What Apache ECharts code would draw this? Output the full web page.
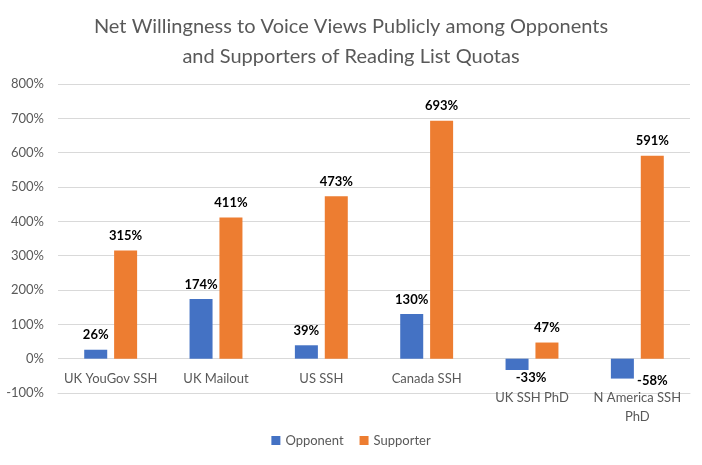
<!DOCTYPE html>
<html>
<head>
<meta charset="utf-8">
<script src="https://cdn.jsdelivr.net/npm/echarts@6/dist/echarts.min.js"></script>
<style>
  html, body { margin: 0; padding: 0; background: #fff; }
  #chart { width: 702px; height: 465px; }
</style>
</head>
<body>
<div id="chart"></div>
<script>
const categories = ['UK YouGov SSH', 'UK Mailout', 'US SSH', 'Canada SSH', 'UK SSH PhD', 'N America SSH PhD']
const opponent = [26, 174, 39, 130, -33, -58]
const supporter = [315, 411, 473, 693, 47, 591]
const seriesNames = ['Opponent', 'Supporter']
const titleText = 'Net Willingness to Voice Views Publicly among Opponents\nand Supporters of Reading List Quotas'

const font = 'Lato, "Open Sans", sans-serif'
// excel nudges the negative labels so they clear the axis text
const negShift = { 4: [14, 0], 5: [30, -5] }

// negative bars get their label underneath
const toData = (arr) => arr.map((v, i) => (v < 0
  ? { value: v, label: { position: 'bottom', distance: 1, offset: negShift[i] || [0, 0] } }
  : v))

// excel pushes the axis label down when a negative label sits there, and wraps long names
const labelFmt = (val, idx) => {
  let txt = val
  if (txt.length > 14) {
    const cut = txt.lastIndexOf(' ')
    txt = txt.slice(0, cut) + '\n' + txt.slice(cut + 1)
  }
  if (opponent[idx] < 0 || supporter[idx] < 0) txt = '\n' + txt
  return txt
}

const barLabel = {
  show: true,
  position: 'top',
  distance: 8,
  formatter: '{c}%',
  fontFamily: font,
  fontSize: 13,
  fontWeight: 'bold',
  color: '#000',
}

const chart = echarts.init(document.getElementById('chart'))
chart.setOption({
  animation: false,
  title: {
    text: titleText,
    left: 'center',
    top: 7,
    textStyle: { fontFamily: font, fontSize: 20, fontWeight: 'normal', color: '#595959', lineHeight: 30 },
  },
  legend: {
    data: seriesNames,
    bottom: 13,
    left: 'center',
    icon: 'rect',
    itemWidth: 9,
    itemHeight: 9,
    itemGap: 16,
    textStyle: { fontFamily: font, fontSize: 13, color: '#595959' },
  },
  grid: { left: 58, right: 12, top: 84, bottom: 72 },
  xAxis: {
    type: 'category',
    data: categories,
    axisLine: { onZero: false, lineStyle: { color: '#d9d9d9' } },
    axisTick: { show: false },
    axisLabel: {
      formatter: labelFmt,
      fontFamily: font,
      fontSize: 13,
      color: '#595959',
      margin: -24,
      lineHeight: 19,
      interval: 0,
    },
  },
  yAxis: {
    type: 'value',
    min: -100,
    max: 800,
    interval: 100,
    axisLine: { show: false },
    axisTick: { show: false },
    splitLine: { lineStyle: { color: '#d9d9d9' } },
    axisLabel: { formatter: '{value}%', fontFamily: font, fontSize: 13, color: '#595959', margin: 14 },
  },
  series: [
    {
      name: seriesNames[0],
      type: 'bar',
      data: toData(opponent),
      barWidth: 23,
      barGap: '30%',
      itemStyle: { color: '#4472C4' },
      label: barLabel,
    },
    {
      name: seriesNames[1],
      type: 'bar',
      data: toData(supporter),
      barWidth: 23,
      barGap: '30%',
      itemStyle: { color: '#ED7D31' },
      label: barLabel,
    },
  ],
})
</script>
</body>
</html>
